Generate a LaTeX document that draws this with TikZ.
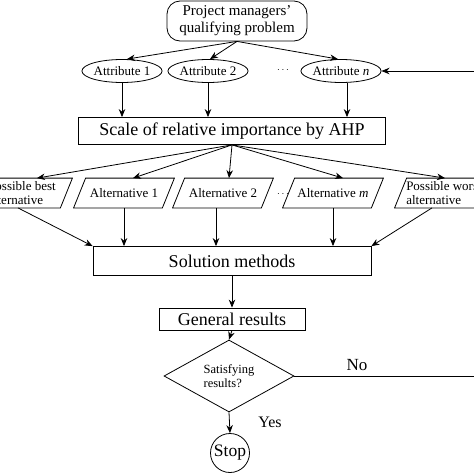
\documentclass[tikz,border=0pt]{standalone}
\usepackage{fontspec}
\setmainfont{Liberation Serif}
\usetikzlibrary{shapes.geometric,arrows.meta,calc}
\begin{document}
\begin{tikzpicture}[x=1pt,y=-1pt,line width=0.8pt,
  arr/.style={draw,line width=0.8pt,-{Stealth[length=8pt,width=6.5pt]}},
  bigtxt/.style={font=\fontsize{18}{20}\selectfont},
  rbox/.style={draw,rectangle,inner sep=0pt,bigtxt},
  attr/.style={draw,ellipse,inner sep=0pt,minimum width=79pt,minimum height=23pt,font=\fontsize{13}{14}\selectfont},
  para/.style={rectangle,inner sep=0pt,minimum height=29pt,minimum width=88pt,font=\fontsize{13}{14}\selectfont},
  lbl/.style={inner sep=0pt}
]
\useasboundingbox (0,0) rectangle (474,474);
\clip (0,0) rectangle (474,474);
\fill[white] (0,0) rectangle (474,474);

\node[draw,rounded corners=13pt,minimum width=140pt,minimum height=40pt,inner sep=0pt,align=center,
  font=\fontsize{15}{17}\selectfont] (proj) at (237,21) {Project managers'\\qualifying problem};

\node[attr] (a1) at (122,71) {Attribute 1};
\node[attr] (a2) at (208,71) {Attribute 2};
\node[attr] (an) at (341,71) {Attribute \textit{n}};
\node[lbl] (dots1) at (283,70) {$\cdots$};

\node[rbox,minimum width=307pt,minimum height=27pt] (scale) at (232,131) {Scale of relative importance by AHP};

\node[para,align=left] (pb) at (22,193) {Possible best\\alternative};
\node[para] (alt1) at (124,193) {Alternative 1};
\node[para] (alt2) at (223,193) {Alternative 2};
\node[para] (altm) at (333,193) {Alternative \textit{m}};
\node[para,align=left] (pw) at (445,193) {\hspace*{-2pt}Possible worst\\\hspace*{-2pt}alternative};
\node[lbl] (dots2) at (283,194) {$\cdots$};
\foreach \n in {pb,alt1,alt2,altm,pw}{
  \draw ([xshift=-6pt]\n.south west) -- ([xshift=6pt]\n.north west) -- ([xshift=6pt]\n.north east)
        -- ([xshift=-6pt]\n.south east) -- cycle;
}

\node[rbox,minimum width=278pt,minimum height=29pt] (sol) at (232,261) {Solution methods};
\node[rbox,minimum width=146pt,minimum height=22pt] (gen) at (232,319) {General results};

\node[draw,diamond,aspect=1.8,minimum width=130pt,minimum height=72pt,inner sep=0pt,align=left,
  font=\fontsize{12.5}{14}\selectfont] (dec) at (229,376) {Satisfying\\results?};
\node[draw,circle,minimum size=39pt,inner sep=0pt,font=\fontsize{17.5}{19}\selectfont] (stop) at (230,453) {Stop};

\node[lbl,font=\fontsize{17}{19}\selectfont] (no) at (357,365) {No};
\node[lbl,font=\fontsize{16}{18}\selectfont] (yes) at (270,422) {Yes};

% connectors
\draw[arr] (proj.south) -- ([xshift=5pt]a1.north);
\draw[arr] (proj.south) -- ([xshift=2pt]a2.north);
\draw[arr] (proj.south) -- ([xshift=-3pt]an.north);

\draw[arr] (a1.south) -- (a1.south |- scale.north);
\draw[arr] (a2.south) -- (a2.south |- scale.north);
\draw[arr] ([xshift=6pt]an.south) -- ([xshift=6pt]an.south |- scale.north);

\draw[arr] (scale.south) -- ([xshift=15pt]pb.north);
\draw[arr] (scale.south) -- ([xshift=9pt]alt1.north);
\draw[arr] (scale.south) -- ([xshift=6pt]alt2.north);
\draw[arr] (scale.south) -- ([xshift=10pt]altm.north);
\draw[arr] (scale.south) -- ([xshift=0pt]pw.north);

\draw[arr] ([xshift=-4pt]pb.south) -- (sol.north west);
\draw[arr] (alt1.south) -- (alt1.south |- sol.north);
\draw[arr] ([xshift=-7pt]alt2.south) -- ([xshift=-7pt]alt2.south |- sol.north);
\draw[arr] (altm.south) -- (altm.south |- sol.north);
\draw[arr] ([xshift=-13pt]pw.south) -- (sol.north east);

\draw[arr] (sol.south) -- (gen.north);
\draw[arr] (gen.south) -- (dec.north);
\draw[arr] (dec.south) -- (stop.north);

\coordinate (loop) at (520,376);
\draw[arr] (dec.east) -- (loop) |- (an.east);
\end{tikzpicture}
\end{document}
